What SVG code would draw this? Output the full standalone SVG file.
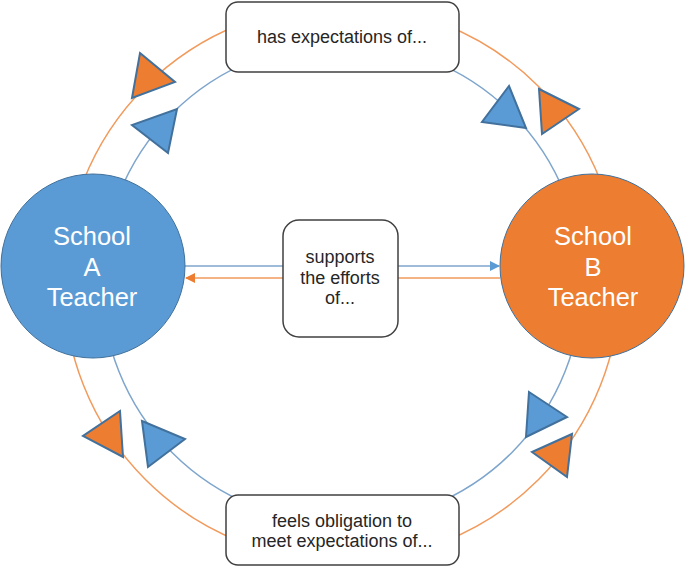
<svg xmlns="http://www.w3.org/2000/svg" width="685" height="567" viewBox="0 0 685 567">
<style>
.ringO{fill:none;stroke:#F29A5C;stroke-width:1.5}
.ringB{fill:none;stroke:#7EA5CD;stroke-width:1.5}
.triB{fill:#5B9BD5;stroke:#41719C;stroke-width:2;stroke-linejoin:miter}
.triO{fill:#ED7D31;stroke:#41719C;stroke-width:2;stroke-linejoin:miter}
.box{fill:#FFFFFF;stroke:#404040;stroke-width:1.5}
.lbl{font-family:"Liberation Sans",Arial,sans-serif;font-size:18px;fill:#262626;text-anchor:middle}
.cl{font-family:"Liberation Sans",Arial,sans-serif;font-size:25.5px;fill:#FFFFFF;text-anchor:middle}
</style>
<defs>
<marker id="arB" viewBox="0 0 10 10" refX="9" refY="5" markerWidth="10" markerHeight="10" markerUnits="userSpaceOnUse" orient="auto"><path d="M0,0 L10,5 L0,10 z" fill="#5B9BD5"/></marker>
<marker id="arO" viewBox="0 0 10 10" refX="9" refY="5" markerWidth="10" markerHeight="10" markerUnits="userSpaceOnUse" orient="auto"><path d="M0,0 L10,5 L0,10 z" fill="#ED7D31"/></marker>
</defs>
<g id="connectors">
<circle class="ringO" cx="342" cy="283" r="278"/>
<circle class="ringB" cx="342" cy="283" r="240"/>
<line x1="185" y1="266" x2="499" y2="266" stroke="#7EA5CD" stroke-width="1.5" marker-end="url(#arB)"/>
<line x1="500" y1="278" x2="186" y2="278" stroke="#F29A5C" stroke-width="1.5" marker-end="url(#arO)"/>
<polygon class="triO" points="140,53 175,82 132,98"/>
<polygon class="triB" points="177,109 168,153 132,125"/>
<polygon class="triB" points="509,86 526,128 482,122"/>
<polygon class="triO" points="539,89 579,109 542,134"/>
<polygon class="triO" points="120,411 123,457 83,436"/>
<polygon class="triB" points="142,421 185,439 148,467"/>
<polygon class="triB" points="529,392 567,417 526,437"/>
<polygon class="triO" points="572,434 567,477 532,452"/>
</g>
<g id="schoolA">
<circle cx="93" cy="266" r="92" fill="#5B9BD5" stroke="#41719C" stroke-width="1"/>
<text class="cl" x="92" y="245">School</text>
<text class="cl" x="92" y="276">A</text>
<text class="cl" x="92" y="306">Teacher</text>
</g>
<g id="schoolB">
<circle cx="592" cy="266" r="92" fill="#ED7D31" stroke="#41719C" stroke-width="1"/>
<text class="cl" x="593" y="245">School</text>
<text class="cl" x="593" y="276">B</text>
<text class="cl" x="593" y="306">Teacher</text>
</g>
<g id="hasExpectations">
<rect class="box" x="226" y="2" width="233" height="70" rx="12"/>
<text class="lbl" x="342" y="43">has expectations of...</text>
</g>
<g id="supports">
<rect class="box" x="283" y="220" width="115" height="117" rx="16"/>
<text class="lbl" x="340" y="263">supports</text>
<text class="lbl" x="340" y="283.5">the efforts</text>
<text class="lbl" x="340" y="304">of...</text>
</g>
<g id="feelsObligation">
<rect class="box" x="226" y="495" width="233" height="70" rx="12"/>
<text class="lbl" x="342" y="526.5">feels obligation to</text>
<text class="lbl" x="342" y="547">meet expectations of...</text>
</g>
</svg>
